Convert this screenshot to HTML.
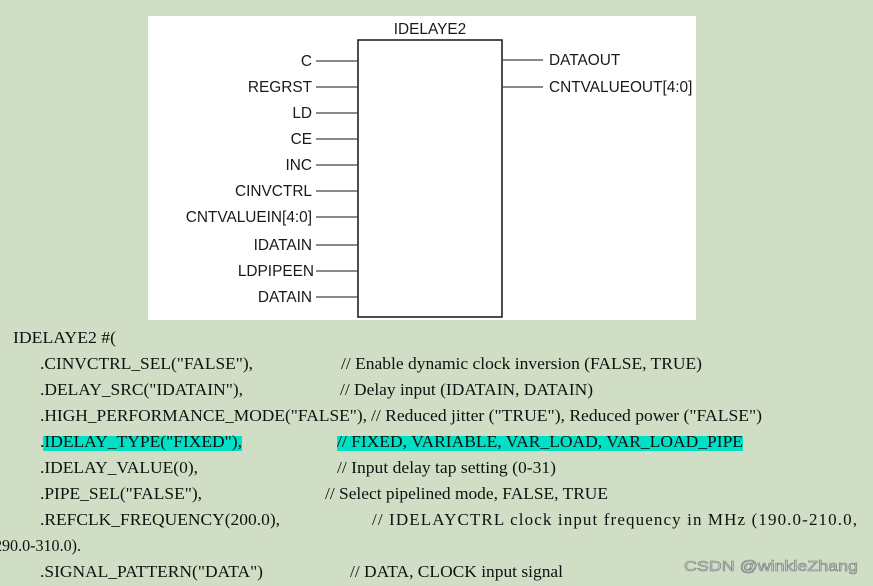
<!DOCTYPE html>
<html><head><meta charset="utf-8"><style>
html,body{margin:0;padding:0;background:#cfdec4;}
svg{display:block}
.s{font-family:"Liberation Sans",Arial,sans-serif;font-size:15.4px;fill:#1a1a1a}
.t{font-family:"Liberation Serif","Times New Roman",serif;font-size:17px;fill:#111}
</style></head><body>
<svg width="873" height="586" viewBox="0 0 873 586" xmlns="http://www.w3.org/2000/svg">
<rect x="0" y="0" width="873" height="586" fill="#cfdec4"/>
<rect x="148" y="16" width="548" height="304" fill="#fff"/>
<text class="s" x="430" y="34" text-anchor="middle" font-size="16.5">IDELAYE2</text>
<rect x="358" y="40" width="144" height="277" fill="#fff" stroke="#222" stroke-width="1.6"/>
<g stroke="#444" stroke-width="1.2">
<line x1="316" y1="61" x2="358" y2="61"/><line x1="316" y1="87" x2="358" y2="87"/>
<line x1="316" y1="113" x2="358" y2="113"/><line x1="316" y1="139" x2="358" y2="139"/>
<line x1="316" y1="165" x2="358" y2="165"/><line x1="316" y1="191" x2="358" y2="191"/>
<line x1="316" y1="217" x2="358" y2="217"/><line x1="316" y1="245" x2="358" y2="245"/>
<line x1="316" y1="271" x2="358" y2="271"/><line x1="316" y1="297" x2="358" y2="297"/>
<line x1="502" y1="60" x2="543" y2="60"/><line x1="502" y1="87" x2="543" y2="87"/>
</g>
<g class="s" text-anchor="end">
<text x="312" y="66">C</text><text x="312" y="92">REGRST</text><text x="312" y="118">LD</text>
<text x="312" y="144">CE</text><text x="312" y="170">INC</text><text x="312" y="196">CINVCTRL</text>
<text x="312" y="222">CNTVALUEIN[4:0]</text><text x="312" y="250">IDATAIN</text>
<text x="314" y="276">LDPIPEEN</text><text x="312" y="302">DATAIN</text>
</g>
<text class="s" x="549" y="65">DATAOUT</text>
<text class="s" x="549" y="92">CNTVALUEOUT[4:0]</text>

<rect x="43" y="436" width="199" height="15" fill="#00e0c4"/>
<rect x="337" y="436" width="406" height="15" fill="#00e0c4"/>
<g class="t">
<text x="13" y="343" textLength="103" lengthAdjust="spacingAndGlyphs">IDELAYE2 #(</text>
<text x="40" y="369" textLength="213" lengthAdjust="spacingAndGlyphs">.CINVCTRL_SEL("FALSE"),</text>
<text x="341" y="369" textLength="361" lengthAdjust="spacingAndGlyphs">// Enable dynamic clock inversion (FALSE, TRUE)</text>
<text x="40" y="395" textLength="203" lengthAdjust="spacingAndGlyphs">.DELAY_SRC("IDATAIN"),</text>
<text x="340" y="395" textLength="253" lengthAdjust="spacingAndGlyphs">// Delay input (IDATAIN, DATAIN)</text>
<text x="40" y="421" textLength="327" lengthAdjust="spacingAndGlyphs">.HIGH_PERFORMANCE_MODE("FALSE"),</text>
<text x="371" y="421" textLength="391" lengthAdjust="spacingAndGlyphs">// Reduced jitter ("TRUE"), Reduced power ("FALSE")</text>
<text x="40" y="447" textLength="202" lengthAdjust="spacingAndGlyphs">.IDELAY_TYPE("FIXED"),</text>
<text x="337" y="447" textLength="406" lengthAdjust="spacingAndGlyphs">// FIXED, VARIABLE, VAR_LOAD, VAR_LOAD_PIPE</text>
<text x="40" y="473" textLength="158" lengthAdjust="spacingAndGlyphs">.IDELAY_VALUE(0),</text>
<text x="337" y="473" textLength="219" lengthAdjust="spacingAndGlyphs">// Input delay tap setting (0-31)</text>
<text x="40" y="499" textLength="162" lengthAdjust="spacingAndGlyphs">.PIPE_SEL("FALSE"),</text>
<text x="325" y="499" textLength="283" lengthAdjust="spacingAndGlyphs">// Select pipelined mode, FALSE, TRUE</text>
<text x="40" y="525" textLength="240" lengthAdjust="spacingAndGlyphs">.REFCLK_FREQUENCY(200.0),</text>
<text x="372" y="525" textLength="485" lengthAdjust="spacing">//   IDELAYCTRL   clock   input   frequency   in   MHz   (190.0-210.0,</text>
<text x="-6" y="551" textLength="87" lengthAdjust="spacingAndGlyphs">290.0-310.0).</text>
<text x="40" y="577" textLength="223" lengthAdjust="spacingAndGlyphs">.SIGNAL_PATTERN("DATA")</text>
<text x="350" y="577" textLength="213" lengthAdjust="spacingAndGlyphs">// DATA, CLOCK input signal</text>
</g>
<text x="684" y="571" textLength="174" lengthAdjust="spacingAndGlyphs" font-family="Liberation Sans, sans-serif" font-size="15" fill="#d8d8d8" stroke="#777" stroke-width="0.6">CSDN @winkleZhang</text>
</svg>
</body></html>
